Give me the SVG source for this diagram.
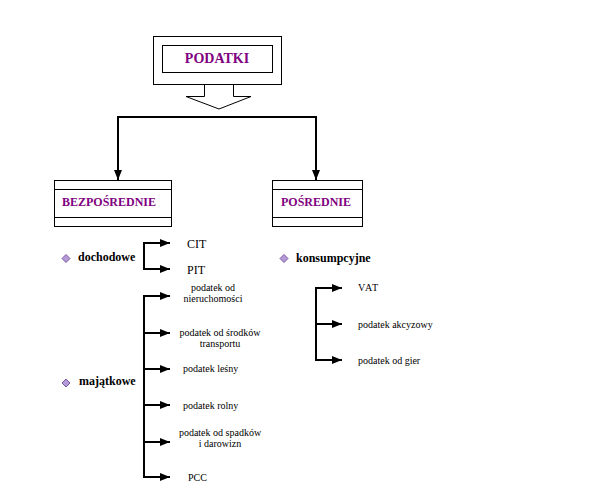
<svg xmlns="http://www.w3.org/2000/svg" width="596" height="496" viewBox="0 0 596 496">
<defs>
<marker id="ah" viewBox="0 0 10 8" refX="10" refY="4" markerWidth="10" markerHeight="8" markerUnits="userSpaceOnUse" orient="auto">
<path d="M0,0 L10,4 L0,8 z" fill="#000"/>
</marker>
<style>
.box{fill:#fff;stroke:#000;stroke-width:1}
.ln{fill:none;stroke:#000;stroke-width:1}
.con{fill:none;stroke:#000;stroke-width:2}
.arr{fill:none;stroke:#000;stroke-width:2;marker-end:url(#ah)}
text{font-family:"Liberation Serif","Times New Roman",Times,"DejaVu Serif",serif}
.title{font-weight:bold;fill:#800080}
.cat{font-weight:bold;font-size:12px;fill:#000}
.sm{font-size:10px;fill:#000}
.md{font-size:12px;fill:#000}
.dia{fill:#b49ad8;stroke:#7a5a9e;stroke-width:1}
</style>
</defs>
<rect width="596" height="496" fill="#fff"/>

<g id="podatki">
<rect class="box" x="153.5" y="36.5" width="128" height="48"/>
<rect class="box" x="162.5" y="45.5" width="110" height="27"/>
<text class="title" x="217" y="63" font-size="14" text-anchor="middle" font-family="Liberation Serif, serif">PODATKI</text>
<path class="ln" d="M204.5,84.5 V96.5 H186 L219,109 L251,96.5 H233.5 V84.5"/>
</g>

<g id="bezposrednie">
<rect class="box" x="54.5" y="180.5" width="117" height="46"/>
<line class="ln" x1="54.5" y1="189.5" x2="171.5" y2="189.5"/>
<line class="ln" x1="54.5" y1="217.5" x2="171.5" y2="217.5"/>
<text class="title" x="62" y="206" font-size="12">BEZPOŚREDNIE</text>
</g>

<g id="posrednie">
<rect class="box" x="272.5" y="180.5" width="90" height="46"/>
<line class="ln" x1="272.5" y1="189.5" x2="362.5" y2="189.5"/>
<line class="ln" x1="272.5" y1="217.5" x2="362.5" y2="217.5"/>
<text class="title" x="281" y="206" font-size="12">POŚREDNIE</text>
</g>

<g id="dochodowe">
<path class="dia" d="M66,254.5 L70,258.5 L66,262.5 L62,258.5 z"/>
<text class="cat" x="78" y="261">dochodowe</text>
</g>
<g id="cit"><text class="md" x="187" y="248">CIT</text></g>
<g id="pit"><text class="md" x="187" y="274">PIT</text></g>

<g id="majatkowe">
<path class="dia" d="M66,379 L70,383 L66,387 L62,383 z"/>
<text class="cat" x="79" y="385">majątkowe</text>
</g>
<g id="nieruchomosci">
<text class="sm" x="213" y="291" text-anchor="middle">podatek od</text>
<text class="sm" x="213" y="302" text-anchor="middle">nieruchomości</text>
</g>
<g id="srodki">
<text class="sm" x="220" y="336" text-anchor="middle">podatek od środków</text>
<text class="sm" x="220" y="347" text-anchor="middle">transportu</text>
</g>
<g id="lesny"><text class="sm" x="183" y="372">podatek leśny</text></g>
<g id="rolny"><text class="sm" x="183" y="409">podatek rolny</text></g>
<g id="spadki">
<text class="sm" x="220" y="436" text-anchor="middle">podatek od spadków</text>
<text class="sm" x="220" y="447" text-anchor="middle">i darowizn</text>
</g>
<g id="pcc"><text class="sm" x="188" y="481">PCC</text></g>

<g id="konsumpcyjne">
<path class="dia" d="M284,254.5 L288,258.5 L284,262.5 L280,258.5 z"/>
<text class="cat" x="296" y="262">konsumpcyjne</text>
</g>
<g id="vat"><text class="sm" x="358" y="291" letter-spacing="1">VAT</text></g>
<g id="akcyza"><text class="sm" x="358" y="328">podatek akcyzowy</text></g>
<g id="gry"><text class="sm" x="358" y="364">podatek od gier</text></g>

<g id="connectors">
<path class="arr" d="M219,117 H118 V180"/>
<path class="arr" d="M219,117 H316 V180"/>

<line class="con" x1="144" y1="242" x2="144" y2="270"/>
<line class="arr" x1="143" y1="243" x2="170" y2="243"/>
<line class="arr" x1="143" y1="269" x2="170" y2="269"/>

<line class="con" x1="144" y1="295" x2="144" y2="478"/>
<line class="arr" x1="143" y1="296" x2="170" y2="296"/>
<line class="arr" x1="143" y1="333" x2="170" y2="333"/>
<line class="arr" x1="143" y1="369" x2="170" y2="369"/>
<line class="arr" x1="143" y1="405" x2="170" y2="405"/>
<line class="arr" x1="143" y1="442" x2="170" y2="442"/>
<line class="arr" x1="143" y1="477" x2="170" y2="477"/>

<line class="con" x1="316" y1="287" x2="316" y2="361"/>
<line class="arr" x1="315" y1="288" x2="342" y2="288"/>
<line class="arr" x1="315" y1="324" x2="342" y2="324"/>
<line class="arr" x1="315" y1="360" x2="342" y2="360"/>
</g>
</svg>
